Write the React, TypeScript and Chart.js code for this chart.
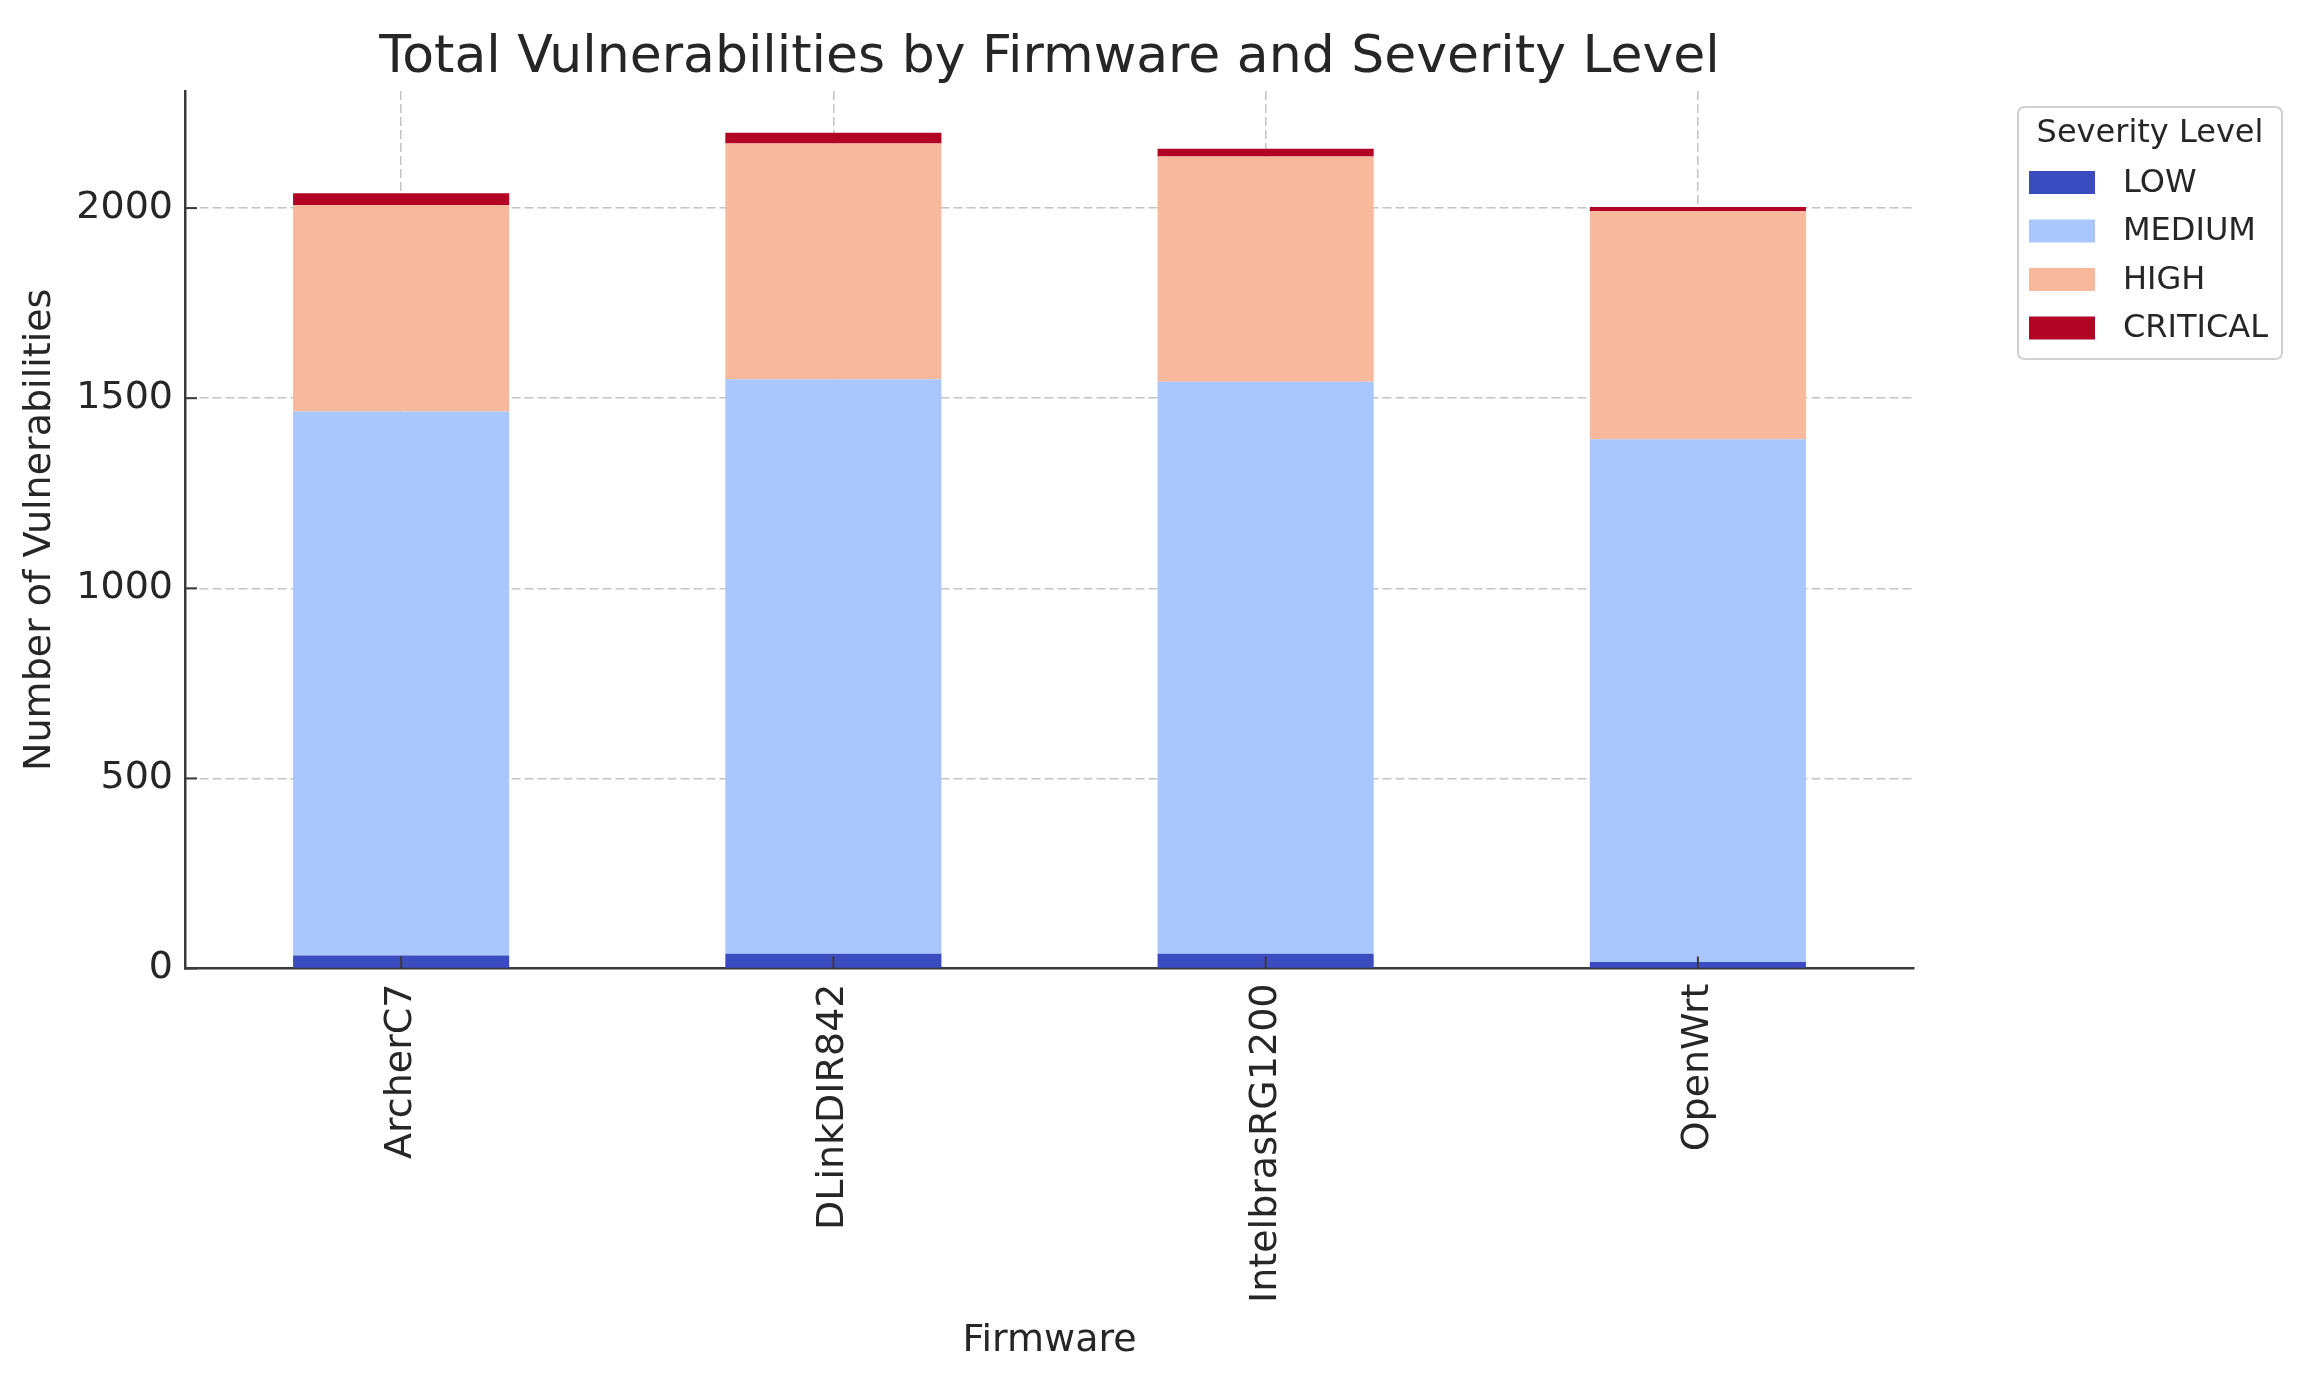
import React, { useEffect, useRef } from "react";
import { Chart, registerables } from "chart.js";

Chart.register(...registerables);

const firmwares = ["ArcherC7", "DLinkDIR842", "IntelbrasRG1200", "OpenWrt"];
const severityLevels = ["LOW", "MEDIUM", "HIGH", "CRITICAL"];
const lowValues = [34, 39, 39, 17];
const mediumValues = [1431, 1511, 1504, 1375];
const highValues = [543, 620, 593, 600];
const criticalValues = [31, 28, 20, 11];
const severityColors = ["#3b4cc0", "#aac7fd", "#f7b89c", "#b40426"];
const yTickValues = [0, 500, 1000, 1500, 2000];
const yAxisMax = 2308;

const FONT = "'DejaVu Sans', sans-serif";
const TEXT = "#262626";
const GRID = "rgba(176,176,176,0.75)";
const AXIS = "#3a3a3a";

const inwardTicks = {
  id: "inwardTicks",
  afterDraw(chart: any) {
    const { ctx, chartArea } = chart;
    const xs = chart.scales.x;
    const ys = chart.scales.y;
    ctx.save();
    ctx.strokeStyle = AXIS;
    ctx.lineWidth = 2;
    ys.ticks.forEach((_t: any, i: number) => {
      const py = ys.getPixelForTick(i);
      ctx.beginPath();
      ctx.moveTo(chartArea.left, py);
      ctx.lineTo(chartArea.left + 12, py);
      ctx.stroke();
    });
    xs.ticks.forEach((_t: any, i: number) => {
      const px = xs.getPixelForTick(i);
      ctx.beginPath();
      ctx.moveTo(px, chartArea.bottom);
      ctx.lineTo(px, chartArea.bottom - 12);
      ctx.stroke();
    });
    ctx.restore();
  },
};

const boxLegend = {
  id: "boxLegend",
  afterDraw(chart: any) {
    const { ctx, chartArea } = chart;
    const x0 = chartArea.right + 104;
    const y0 = chartArea.top + 16;
    const w = 264;
    const h = 252;
    const r = 7;
    ctx.save();
    ctx.beginPath();
    ctx.moveTo(x0 + r, y0);
    ctx.lineTo(x0 + w - r, y0);
    ctx.quadraticCurveTo(x0 + w, y0, x0 + w, y0 + r);
    ctx.lineTo(x0 + w, y0 + h - r);
    ctx.quadraticCurveTo(x0 + w, y0 + h, x0 + w - r, y0 + h);
    ctx.lineTo(x0 + r, y0 + h);
    ctx.quadraticCurveTo(x0, y0 + h, x0, y0 + h - r);
    ctx.lineTo(x0, y0 + r);
    ctx.quadraticCurveTo(x0, y0, x0 + r, y0);
    ctx.closePath();
    ctx.fillStyle = "rgba(255,255,255,0.85)";
    ctx.fill();
    ctx.strokeStyle = "#d0d0d0";
    ctx.lineWidth = 2;
    ctx.stroke();

    ctx.font = `32px ${FONT}`;
    ctx.fillStyle = TEXT;
    ctx.textAlign = "center";
    ctx.textBaseline = "middle";
    ctx.fillText("Severity Level", x0 + w / 2, y0 + 27);

    chart.data.datasets.forEach((ds: any, i: number) => {
      const cy = y0 + 75.5 + i * 48.5;
      ctx.fillStyle = ds.backgroundColor;
      ctx.fillRect(x0 + 11, cy - 11.5, 66, 23);
      ctx.fillStyle = TEXT;
      ctx.textAlign = "left";
      ctx.fillText(ds.label, x0 + 105, cy + 1);
    });
    ctx.restore();
  },
};

export default function App() {
  const ref = useRef<HTMLCanvasElement | null>(null);

  useEffect(() => {
    if (!ref.current) return;
    const seriesValues = [lowValues, mediumValues, highValues, criticalValues];
    const chart = new Chart(ref.current, {
      type: "bar",
      data: {
        labels: firmwares,
        datasets: severityLevels.map((lvl, i) => ({
          label: lvl,
          data: seriesValues[i],
          backgroundColor: severityColors[i],
          borderWidth: 0,
          categoryPercentage: 1,
          barPercentage: 0.5,
        })),
      },
      options: {
        responsive: false,
        animation: false,
        layout: { padding: { left: 0, right: 376, top: 0, bottom: 0 } },
        plugins: {
          legend: { display: false },
          tooltip: { enabled: false },
          title: {
            display: true,
            text: "Total Vulnerabilities by Firmware and Severity Level",
            color: TEXT,
            fullSize: false,
            font: { family: FONT, size: 52, weight: "normal", lineHeight: 1.2 },
            padding: { top: 18.9, bottom: 1.7 },
          },
        },
        scales: {
          x: {
            stacked: true,
            offset: true,
            z: 1,
            grid: {
              offset: false,
              color: GRID,
              lineWidth: 1.5,
              drawTicks: false,
            },
            border: { color: AXIS, width: 2.5, dash: [9, 4] },
            ticks: {
              autoSkip: false,
              maxRotation: 90,
              minRotation: 90,
              padding: 15,
              color: TEXT,
              font: { family: FONT, size: 38 },
            },
            title: {
              display: true,
              text: "Firmware",
              color: TEXT,
              font: { family: FONT, size: 38, lineHeight: 1.0 },
              padding: { top: 4, bottom: 5 },
            },
          },
          y: {
            stacked: true,
            min: 0,
            max: yAxisMax,
            z: 1,
            afterBuildTicks: (scale: any) => {
              scale.ticks = yTickValues.map((v) => ({ value: v }));
            },
            grid: {
              color: (c: any) => (c.tick && c.tick.value === 0 ? "rgba(0,0,0,0)" : GRID),
              lineWidth: 1.5,
              drawTicks: false,
            },
            border: { color: AXIS, width: 2.5, dash: [9, 4] },
            ticks: {
              padding: 12,
              color: TEXT,
              font: { family: FONT, size: 38 },
              callback: (v: any) => String(v),
            },
            title: {
              display: true,
              text: "Number of Vulnerabilities",
              color: TEXT,
              font: { family: FONT, size: 38, lineHeight: 1.2 },
              padding: { top: 9.2, bottom: 1.5 },
            },
          },
        },
      },
      plugins: [inwardTicks, boxLegend],
    });
    return () => chart.destroy();
  }, []);

  return (
    <div style={{ width: 2282, height: 1357 }}>
      <canvas ref={ref} width={2282} height={1357} style={{ display: "block", width: 2282, height: 1357 }} />
    </div>
  );
}
